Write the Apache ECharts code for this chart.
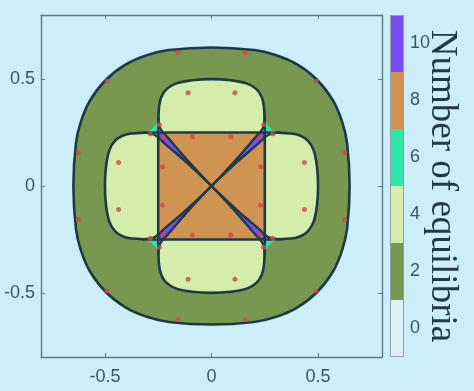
<!DOCTYPE html>
<html>
<head>
<meta charset="utf-8">
<script src="https://cdn.jsdelivr.net/npm/echarts@6/dist/echarts.min.js"></script>
<style>
  html, body { margin: 0; padding: 0; background: #cdeef9; }
  #chart { width: 474px; height: 391px; }
</style>
</head>
<body>
<div id="chart"></div>
<script>
// axis ticks
const xTicks = [-0.5, 0, 0.5]
const yTicks = [-0.5, 0, 0.5]
const cbTicks = [0, 2, 4, 6, 8, 10]

// colour bar: band edges and colours (number of equilibria 0,2,4,6,8,10)
const cbEdges = [-1, 1, 3, 5, 7, 9, 11]
const cbColors = ['#dcf0f6', '#789850', '#d5edaa', '#2ee6a8', '#cf9352', '#7a4cf3']

// region boundaries (x, y)
const outerBoundary = [
  [0.648, 0], [0.636, 0.2], [0.613, 0.3], [0.57, 0.4], [0.496, 0.496], [0.4, 0.57], [0.3, 0.613], [0.2, 0.636],
  [0, 0.648], [-0.2, 0.636], [-0.3, 0.613], [-0.4, 0.57], [-0.496, 0.496], [-0.57, 0.4], [-0.613, 0.3], [-0.636, 0.2],
  [-0.648, 0], [-0.636, -0.2], [-0.613, -0.3], [-0.57, -0.4], [-0.496, -0.496], [-0.4, -0.57], [-0.3, -0.613], [-0.2, -0.636],
  [0, -0.648], [0.2, -0.636], [0.3, -0.613], [0.4, -0.57], [0.496, -0.496], [0.57, -0.4], [0.613, -0.3], [0.636, -0.2]
]
const lobeTop = [[-0.25, 0.25], [-0.249, 0.31], [-0.246, 0.37], [-0.236, 0.415], [-0.212, 0.452], [-0.168, 0.479], [-0.09, 0.495], [0, 0.5],
  [0.09, 0.495], [0.168, 0.479], [0.212, 0.452], [0.236, 0.415], [0.246, 0.37], [0.249, 0.31], [0.25, 0.25]]
const lobeBottom = [[-0.25, -0.25], [-0.249, -0.31], [-0.246, -0.37], [-0.236, -0.415], [-0.212, -0.452], [-0.168, -0.479], [-0.09, -0.495], [0, -0.5],
  [0.09, -0.495], [0.168, -0.479], [0.212, -0.452], [0.236, -0.415], [0.246, -0.37], [0.249, -0.31], [0.25, -0.25]]
const lobeLeft = [[-0.25, -0.25], [-0.31, -0.249], [-0.37, -0.246], [-0.415, -0.236], [-0.452, -0.212], [-0.479, -0.168], [-0.495, -0.09], [-0.5, 0],
  [-0.495, 0.09], [-0.479, 0.168], [-0.452, 0.212], [-0.415, 0.236], [-0.37, 0.246], [-0.31, 0.249], [-0.25, 0.25]]
const lobeRight = [[0.25, -0.25], [0.31, -0.249], [0.37, -0.246], [0.415, -0.236], [0.452, -0.212], [0.479, -0.168], [0.495, -0.09], [0.5, 0],
  [0.495, 0.09], [0.479, 0.168], [0.452, 0.212], [0.415, 0.236], [0.37, 0.246], [0.31, 0.249], [0.25, 0.25]]
const squareCorners = [[-0.25, -0.25], [0.25, -0.25], [0.25, 0.25], [-0.25, 0.25]]
const cornerTips = [
  [[-0.25, 0.32], [-0.262, 0.285], [-0.285, 0.262], [-0.32, 0.25], [-0.25, 0.25]],
  [[0.25, 0.32], [0.262, 0.285], [0.285, 0.262], [0.32, 0.25], [0.25, 0.25]],
  [[-0.25, -0.32], [-0.262, -0.285], [-0.285, -0.262], [-0.32, -0.25], [-0.25, -0.25]],
  [[0.25, -0.32], [0.262, -0.285], [0.285, -0.262], [0.32, -0.25], [0.25, -0.25]]
]
const wedges = [
  [[-0.25, 0.25], [-0.228, 0.25], [-0.205, 0.227], [-0.17, 0.186], [-0.12, 0.128], [-0.128, 0.12], [-0.186, 0.17], [-0.227, 0.205], [-0.25, 0.228]],
  [[0.25, 0.25], [0.228, 0.25], [0.205, 0.227], [0.17, 0.186], [0.12, 0.128], [0.128, 0.12], [0.186, 0.17], [0.227, 0.205], [0.25, 0.228]],
  [[-0.25, -0.25], [-0.228, -0.25], [-0.205, -0.227], [-0.17, -0.186], [-0.12, -0.128], [-0.128, -0.12], [-0.186, -0.17], [-0.227, -0.205], [-0.25, -0.228]],
  [[0.25, -0.25], [0.228, -0.25], [0.205, -0.227], [0.17, -0.186], [0.12, -0.128], [0.128, -0.12], [0.186, -0.17], [0.227, -0.205], [0.25, -0.228]]
]
const crossCurves = [
  [[-0.25, 0.32], [-0.243, 0.275], [-0.228, 0.25], [-0.205, 0.227], [-0.17, 0.186], [-0.12, 0.128], [-0.06, 0.063], [0, 0]],
  [[-0.32, 0.25], [-0.275, 0.243], [-0.25, 0.228], [-0.227, 0.205], [-0.186, 0.17], [-0.128, 0.12], [-0.063, 0.06], [0, 0]],
  [[0.25, 0.32], [0.243, 0.275], [0.228, 0.25], [0.205, 0.227], [0.17, 0.186], [0.12, 0.128], [0.06, 0.063], [0, 0]],
  [[0.32, 0.25], [0.275, 0.243], [0.25, 0.228], [0.227, 0.205], [0.186, 0.17], [0.128, 0.12], [0.063, 0.06], [0, 0]],
  [[-0.25, -0.32], [-0.243, -0.275], [-0.228, -0.25], [-0.205, -0.227], [-0.17, -0.186], [-0.12, -0.128], [-0.06, -0.063], [0, 0]],
  [[-0.32, -0.25], [-0.275, -0.243], [-0.25, -0.228], [-0.227, -0.205], [-0.186, -0.17], [-0.128, -0.12], [-0.063, -0.06], [0, 0]],
  [[0.25, -0.32], [0.243, -0.275], [0.228, -0.25], [0.205, -0.227], [0.17, -0.186], [0.12, -0.128], [0.06, -0.063], [0, 0]],
  [[0.32, -0.25], [0.275, -0.243], [0.25, -0.228], [0.227, -0.205], [0.186, -0.17], [0.128, -0.12], [0.063, -0.06], [0, 0]]
]

// sampled parameter points (red dots)
const samplePoints = [
  [-0.157, 0.625], [0.157, 0.625], [-0.49, 0.49], [0.49, 0.49], [-0.625, 0.157], [0.625, 0.157],
  [-0.625, -0.157], [0.625, -0.157], [-0.49, -0.49], [0.49, -0.49], [-0.157, -0.625], [0.157, -0.625],
  [-0.11, 0.436], [0.11, 0.436], [-0.436, 0.11], [0.436, 0.11], [-0.436, -0.11], [0.436, -0.11], [-0.11, -0.436], [0.11, -0.436],
  [-0.09, 0.23], [0.09, 0.23], [-0.23, 0.09], [0.23, 0.09], [-0.23, -0.09], [0.23, -0.09], [-0.09, -0.23], [0.09, -0.23],
  [-0.245, 0.287], [0.245, 0.287], [-0.287, 0.245], [0.287, 0.245], [-0.228, 0.228], [0.228, 0.228],
  [-0.245, -0.287], [0.245, -0.287], [-0.287, -0.245], [0.287, -0.245], [-0.228, -0.228], [0.228, -0.228]
]

const EDGE = '#1c3a47'
const AXIS = '#5d7884'
const TEXT = '#3a5562'
const lobes = [lobeTop, lobeBottom, lobeLeft, lobeRight]

// custom series drawing polygons / polylines in data coordinates
function shapeSeries(shapes, type, smooth, style, z) {
  return {
    type: 'custom',
    xAxisIndex: 0,
    yAxisIndex: 0,
    silent: true,
    z: z,
    data: shapes.map(() => [0, 0]),
    renderItem: (params, api) => ({
      type: type,
      shape: { points: shapes[params.dataIndex].map(p => api.coord(p)), smooth: smooth },
      style: Object.assign({ lineJoin: 'round', lineCap: 'round' }, style)
    })
  }
}

const axisLineStyle = { show: true, onZero: false, lineStyle: { color: AXIS, width: 1.4 } }
const labelStyle = { color: TEXT, fontSize: 18, fontFamily: 'Liberation Sans, Arial, sans-serif' }

const chart = echarts.init(document.getElementById('chart'))
chart.setOption({
  backgroundColor: '#cdeef9',
  animation: false,
  grid: [
    { left: 41, top: 15, width: 341, height: 342 },
    { left: 390, top: 15, width: 14, height: 342 }
  ],
  xAxis: [
    {
      gridIndex: 0, type: 'value', min: -0.8, max: 0.8, position: 'bottom',
      axisLine: axisLineStyle,
      axisTick: { show: true, inside: true, length: 4, customValues: xTicks, lineStyle: { color: AXIS } },
      axisLabel: Object.assign({ customValues: xTicks, margin: 11 }, labelStyle),
      splitLine: { show: false }
    },
    {
      gridIndex: 0, type: 'value', min: -0.8, max: 0.8, position: 'top',
      axisLine: axisLineStyle,
      axisTick: { show: true, inside: true, length: 4, customValues: xTicks, lineStyle: { color: AXIS } },
      axisLabel: { show: false },
      splitLine: { show: false }
    },
    { gridIndex: 1, type: 'value', min: 0, max: 1, show: false }
  ],
  yAxis: [
    {
      gridIndex: 0, type: 'value', min: -0.8, max: 0.8, position: 'left',
      axisLine: axisLineStyle,
      axisTick: { show: true, inside: true, length: 4, customValues: yTicks, lineStyle: { color: AXIS } },
      axisLabel: Object.assign({ customValues: yTicks, margin: 6 }, labelStyle),
      splitLine: { show: false }
    },
    {
      gridIndex: 0, type: 'value', min: -0.8, max: 0.8, position: 'right',
      axisLine: axisLineStyle,
      axisTick: { show: true, inside: true, length: 4, customValues: yTicks, lineStyle: { color: AXIS } },
      axisLabel: { show: false },
      splitLine: { show: false }
    },
    {
      gridIndex: 1, type: 'value', min: -1, max: 11, position: 'right',
      axisLine: { show: false },
      axisTick: { show: true, length: 3, customValues: cbTicks, lineStyle: { color: AXIS } },
      axisLabel: Object.assign({ customValues: cbTicks, margin: 6 }, labelStyle),
      splitLine: { show: false }
    }
  ],
  graphic: [{
    type: 'text',
    x: 442,
    y: 186,
    rotation: -Math.PI / 2,
    style: {
      text: 'Number of equilibria',
      font: '37px "Liberation Serif", "Times New Roman", serif',
      fill: '#233a45',
      textAlign: 'center',
      textVerticalAlign: 'middle'
    }
  }],
  series: [
    // filled regions, coloured by number of equilibria
    shapeSeries([outerBoundary], 'polygon', 0.4, { fill: cbColors[1] }, 1),
    shapeSeries(lobes, 'polyline', 0.4, { fill: cbColors[2] }, 2),
    shapeSeries(cornerTips, 'polygon', 0, { fill: cbColors[3] }, 3),
    shapeSeries([squareCorners], 'polygon', 0, { fill: cbColors[4] }, 4),
    shapeSeries(wedges, 'polygon', 0, { fill: cbColors[5] }, 5),
    // boundaries
    shapeSeries([outerBoundary], 'polygon', 0.4, { fill: 'none', stroke: EDGE, lineWidth: 2.6 }, 6),
    shapeSeries(lobes, 'polyline', 0.4, { fill: 'none', stroke: EDGE, lineWidth: 2.6 }, 6),
    shapeSeries([squareCorners], 'polygon', 0, { fill: 'none', stroke: EDGE, lineWidth: 2.6 }, 6),
    shapeSeries(crossCurves, 'polyline', 0.3, { fill: 'none', stroke: EDGE, lineWidth: 2.4 }, 6),
    {
      type: 'scatter',
      xAxisIndex: 0,
      yAxisIndex: 0,
      z: 8,
      silent: true,
      symbolSize: 5,
      itemStyle: { color: '#d6474b' },
      data: samplePoints
    },
    // colour bar
    {
      type: 'custom',
      xAxisIndex: 2,
      yAxisIndex: 2,
      silent: true,
      data: cbColors.map((c, i) => [0, i]),
      renderItem: (params, api) => {
        const i = params.dataIndex
        const lo = api.coord([0, cbEdges[i]])
        const hi = api.coord([1, cbEdges[i + 1]])
        return {
          type: 'rect',
          shape: { x: lo[0], y: hi[1], width: hi[0] - lo[0], height: lo[1] - hi[1] },
          style: { fill: cbColors[i] }
        }
      }
    },
    {
      type: 'custom',
      xAxisIndex: 2,
      yAxisIndex: 2,
      silent: true,
      z: 3,
      data: [[0, 0]],
      renderItem: (params, api) => {
        const lo = api.coord([0, cbEdges[0]])
        const hi = api.coord([1, cbEdges[cbEdges.length - 1]])
        return {
          type: 'rect',
          shape: { x: lo[0] + 0.5, y: hi[1] + 0.5, width: hi[0] - lo[0] - 1, height: lo[1] - hi[1] - 1 },
          style: { fill: 'none', stroke: '#8aa3ad', lineWidth: 1 }
        }
      }
    }
  ]
})
</script>
</body>
</html>
